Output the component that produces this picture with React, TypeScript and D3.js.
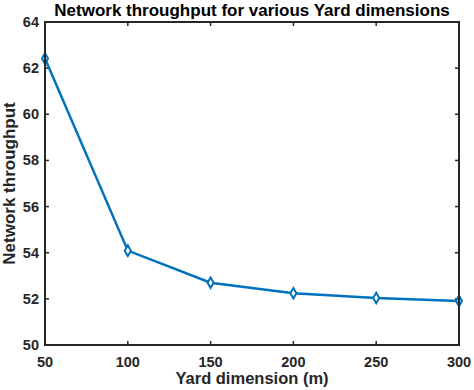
import React, { useEffect, useRef } from 'react';
import * as d3 from 'd3';

const yardDims = [50, 100, 150, 200, 250, 300];
const throughput = [62.42, 54.09, 52.7, 52.24, 52.04, 51.91];
const xTicks = [50, 100, 150, 200, 250, 300];
const yTicks = [50, 52, 54, 56, 58, 60, 62, 64];

const titleText = 'Network throughput for various Yard dimensions';
const xLabel = 'Yard dimension (m)';
const yLabel = 'Network throughput';

export default function App() {
    const width = 474;
    const height = 390;
    const svgRef = useRef<SVGSVGElement>(null);

    useEffect(() => {
        const svg = d3.select(svgRef.current);
        svg.selectAll('*').remove();

        const margin = { top: 22, right: 15, bottom: 45, left: 45 };
        const innerWidth = width - margin.left - margin.right;
        const innerHeight = height - margin.top - margin.bottom;
        const font = 'Liberation Sans, Arial, sans-serif';
        const axisColor = '#262626';
        const blue = '#0072BD';

        const x = d3.scaleLinear().domain([50, 300]).range([0, innerWidth]);
        const y = d3.scaleLinear().domain([50, 64]).range([innerHeight, 0]);

        const g = svg.append('g')
            .attr('transform', `translate(${margin.left},${margin.top})`);

        // tick marks (inward, box on)
        const tickLen = 4;
        xTicks.forEach(t => {
            g.append('line').attr('x1', x(t)).attr('x2', x(t))
                .attr('y1', innerHeight).attr('y2', innerHeight - tickLen)
                .attr('stroke', axisColor).attr('stroke-width', 1.5);
            g.append('line').attr('x1', x(t)).attr('x2', x(t))
                .attr('y1', 0).attr('y2', tickLen)
                .attr('stroke', axisColor).attr('stroke-width', 1.5);
        });
        yTicks.forEach(t => {
            g.append('line').attr('x1', 0).attr('x2', tickLen)
                .attr('y1', y(t)).attr('y2', y(t))
                .attr('stroke', axisColor).attr('stroke-width', 1.5);
            g.append('line').attr('x1', innerWidth).attr('x2', innerWidth - tickLen)
                .attr('y1', y(t)).attr('y2', y(t))
                .attr('stroke', axisColor).attr('stroke-width', 1.5);
        });

        // tick labels
        g.selectAll('.xt').data(xTicks).enter().append('text')
            .attr('x', d => x(d)).attr('y', innerHeight + 22)
            .attr('text-anchor', 'middle')
            .attr('font-family', font).attr('font-weight', 'bold').attr('font-size', 14.5)
            .attr('fill', axisColor)
            .text(d => d);

        g.selectAll('.yt').data(yTicks).enter().append('text')
            .attr('x', -6).attr('y', d => y(d) + 5)
            .attr('text-anchor', 'end')
            .attr('font-family', font).attr('font-weight', 'bold').attr('font-size', 14.5)
            .attr('fill', axisColor)
            .text(d => d);

        // line + markers
        const pts = yardDims.map((d, i) => [d, throughput[i]] as [number, number]);
        const line = d3.line<[number, number]>()
            .x(d => x(d[0]))
            .y(d => y(d[1]));

        g.append('path')
            .datum(pts)
            .attr('fill', 'none')
            .attr('stroke', blue)
            .attr('stroke-width', 2.5)
            .attr('d', line);

        const diamond = d3.symbol().type(d3.symbolDiamond).size(32);
        g.selectAll('.mk').data(pts).enter().append('path')
            .attr('transform', d => `translate(${x(d[0])},${y(d[1])})`)
            .attr('d', diamond)
            .attr('fill', 'white')
            .attr('stroke', blue)
            .attr('stroke-width', 2);

        // box
        g.append('rect')
            .attr('width', innerWidth).attr('height', innerHeight)
            .attr('fill', 'none')
            .attr('stroke', axisColor)
            .attr('stroke-width', 2);

        // title and labels
        svg.append('text')
            .attr('x', margin.left + innerWidth / 2).attr('y', 16)
            .attr('text-anchor', 'middle')
            .attr('font-family', font).attr('font-weight', 'bold').attr('font-size', 17)
            .attr('fill', '#000')
            .text(titleText);

        svg.append('text')
            .attr('x', margin.left + innerWidth / 2).attr('y', 384)
            .attr('text-anchor', 'middle')
            .attr('font-family', font).attr('font-weight', 'bold').attr('font-size', 16.5)
            .attr('fill', axisColor)
            .text(xLabel);

        svg.append('text')
            .attr('transform', `translate(15,${margin.top + innerHeight / 2}) rotate(-90)`)
            .attr('text-anchor', 'middle')
            .attr('font-family', font).attr('font-weight', 'bold').attr('font-size', 17)
            .attr('fill', axisColor)
            .text(yLabel);
    }, []);

    return <>
        <svg ref={svgRef} width={width} height={height}
            style={{ position: 'fixed', left: 0, top: 0, background: '#fff' }}></svg>
    </>;
}
